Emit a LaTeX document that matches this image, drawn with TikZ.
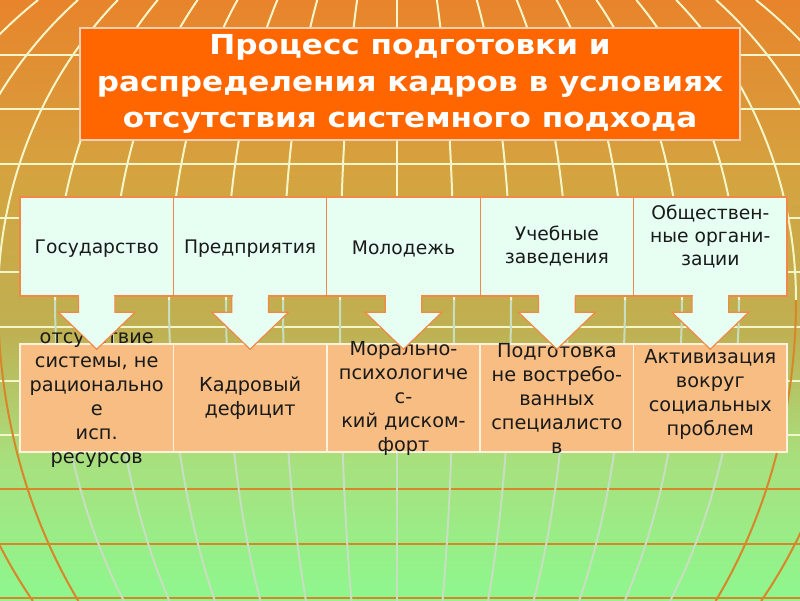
\documentclass[tikz,border=0pt]{standalone}
\usepackage{fontspec}
\setmainfont{DejaVu Sans}
\newfontfamily\titlefont{DejaVu Sans}[FakeStretch=1.13]
\usetikzlibrary{calc}
\definecolor{bgA}{HTML}{8EF78E}
\definecolor{bgB}{HTML}{A8E07E}
\definecolor{bgC}{HTML}{BFB052}
\definecolor{bgD}{HTML}{D4A440}
\definecolor{bgE}{HTML}{E8842C}
\definecolor{titlefill}{HTML}{FF6600}
\definecolor{titleline}{HTML}{F8D0B0}
\definecolor{mint}{HTML}{E6FFF2}
\definecolor{orline}{HTML}{F08848}
\definecolor{peach}{HTML}{F7BD82}
\definecolor{peachline}{HTML}{FFF2DC}
\definecolor{gridcream}{HTML}{F2F6C8}
\definecolor{gridpale}{HTML}{C8DEC0}
\definecolor{gridorange}{HTML}{D9862A}
\definecolor{txt}{HTML}{1A1A1A}
\pgfdeclareverticalshading{bgshade}{100bp}{color(0bp)=(bgA); color(25bp)=(bgA); color(36.7bp)=(bgB); color(47.5bp)=(bgC); color(60bp)=(bgD); color(75bp)=(bgE); color(100bp)=(bgE)}
\tikzset{
  gridlt/.style={draw=gridcream, line width=2pt},
  gridlo/.style={draw=gridpale, line width=2pt},
  gridor/.style={draw=gridorange, line width=2pt},
  titlebox/.style={fill=titlefill, draw=titleline, line width=1.2pt, minimum width=660pt, minimum height=112pt,
    inner sep=0pt, align=center, text=white, font=\titlefont\fontsize{27.5}{36.5}\selectfont\bfseries},
  topbox/.style={fill=mint, draw=orline, line width=1.2pt, minimum width=153.4pt, minimum height=99pt,
    inner sep=0pt, align=center, text=txt, font=\fontsize{18.7}{23}\selectfont},
  toptxt/.style={inner sep=0pt, align=center, text=txt, font=\fontsize{18.7}{23}\selectfont},
  botbox/.style={fill=peach, draw=peachline, line width=1.5pt, minimum width=153.4pt, minimum height=108pt, inner sep=0pt},
  bottxt/.style={inner sep=0pt, align=center, text=txt, font=\fontsize{19.3}{24}\selectfont},
  arrowbody/.style={fill=mint, draw=orline, line width=1.2pt, line join=miter},
}
\begin{document}
\begin{tikzpicture}[x=1pt,y=-1pt]
\useasboundingbox (0,0) rectangle (800,600);
\begin{scope}
\clip (0,0) rectangle (800,600);
\shade[shading=bgshade] (0,0) rectangle (800,600);
% parallels
\foreach \yy in {55,109.3,163.6,217.9,272.2,326.5,380.8,435}{\draw[gridlt] (0,\yy) -- (800,\yy);}
\foreach \yy in {489.4,543.7,598}{\draw[gridor] (0,\yy) -- (800,\yy);}
% meridians
\foreach \k in {-9,...,9}{
  \pgfmathsetmacro\aa{57*\k}
  \pgfmathtruncatemacro\ak{abs(\k)}
  \draw[gridlt] plot[domain=0:45.6,samples=40,smooth] ({397+\aa*cos(\x)},{300-420*sin(\x)});
  \ifnum\ak>6
    \draw[gridor] plot[domain=0:37,samples=40,smooth] ({397+\aa*cos(\x)},{300+500*sin(\x)});
  \else
    \draw[gridlo] plot[domain=0:37,samples=40,smooth] ({397+\aa*cos(\x)},{300+500*sin(\x)});
  \fi
}
\end{scope}
% title
\node[titlebox] (title) at (410,84) {Процесс подготовки и\\распределения кадров в условиях\\отсутствия системного подхода};
% top boxes
\node[topbox] (t1) at (96.7,246.5) {};
\node[topbox] (t2) at (250.1,246.5) {};
\node[topbox] (t3) at (403.5,246.5) {};
\node[topbox] (t4) at (556.9,246.5) {};
\node[topbox] (t5) at (710.3,246.5) {};
\node[toptxt] (y1) at ($(t1)+(0,2)$) {Государство};
\node[toptxt] (y2) at ($(t2)+(0,2)$) {Предприятия};
\node[toptxt] (y3) at ($(t3)+(0,2)$) {Молодежь};
\node[toptxt] (y4) at ($(t4)+(0,0)$) {Учебные\\заведения};
\node[toptxt] (y5) at ($(t5)+(0,-10)$) {Обществен-\\ные органи-\\зации};
% bottom boxes
\node[botbox] (b1) at (96.7,398) {};
\node[botbox] (b2) at (250.1,398) {};
\node[botbox] (b3) at (403.5,398) {};
\node[botbox] (b4) at (556.9,398) {};
\node[botbox] (b5) at (710.3,398) {};
\node[bottxt] (x1) at ($(b1)+(0,2)$) {отсутствие\\системы, не\\рационально\\е\\исп.\\ресурсов};
\node[bottxt] (x2) at ($(b2)+(0,0)$) {Кадровый\\дефицит};
\node[bottxt] (x3) at ($(b3)+(0,0)$) {Морально-\\психологиче\\с-\\кий диском-\\форт};
\node[bottxt] (x4) at ($(b4)+(0,0)$) {Подготовка\\не востребо-\\ванных\\специалисто\\в};
\node[bottxt] (x5) at ($(b5)+(0,-4)$) {Активизация\\вокруг\\социальных\\проблем};
% block arrows
\foreach \i in {1,...,5}{
  \fill[mint] ($(t\i.south)+(-17.6,-1.5)$) rectangle ($(t\i.south)+(17.6,1.5)$);
  \path[arrowbody] ($(t\i.south)+(-18.3,0)$) -- ($(t\i.south)+(-18.3,15.7)$) -- ($(t\i.south)+(-38.3,15.7)$)
    -- ($(b\i.north)+(0,6)$) -- ($(t\i.south)+(38.3,15.7)$) -- ($(t\i.south)+(18.3,15.7)$) -- ($(t\i.south)+(18.3,0)$);
}
\end{tikzpicture}
\end{document}
